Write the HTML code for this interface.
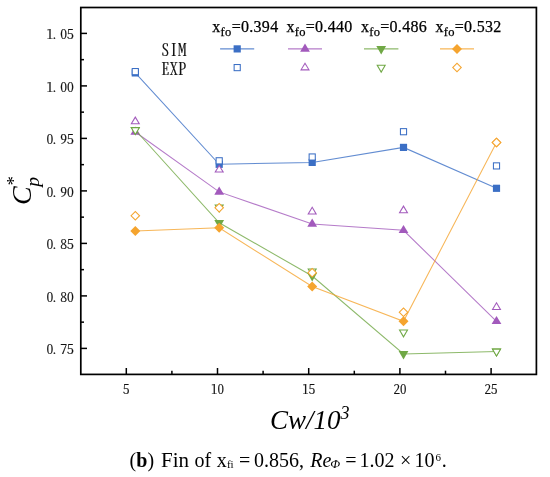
<!DOCTYPE html>
<html><head><meta charset="utf-8"><style>
html,body{margin:0;padding:0;background:#fff;}
body{width:550px;height:477px;position:relative;overflow:hidden;}
svg{position:absolute;left:0;top:0;}
.cjk{font-family:"Noto Serif CJK SC",serif;font-feature-settings:"hwid";}
.dt{margin-left:-2.3px;margin-right:2.3px;}
.yl{position:absolute;left:20px;width:53.8px;text-align:right;transform:scaleX(1.05);transform-origin:100% 0;-webkit-text-stroke:0.2px #111;font-family:"Noto Serif CJK SC",serif;font-feature-settings:"hwid";font-size:13px;line-height:16px;color:#111;}
.xl{position:absolute;top:380.5px;-webkit-text-stroke:0.2px #111;width:40px;text-align:center;font-family:"Noto Serif CJK SC",serif;font-feature-settings:"hwid";font-size:13px;line-height:16px;color:#111;}
.lg{position:absolute;left:161px;-webkit-text-stroke:0.1px #111;font-family:"Noto Serif CJK SC",serif;font-feature-settings:"hwid";font-size:17px;line-height:20px;color:#111;}
.lt{position:absolute;top:17px;-webkit-text-stroke:0.25px #000;font-family:"Liberation Serif",serif;font-size:16px;letter-spacing:0.3px;line-height:20px;color:#000;white-space:nowrap;}
.lt sub{font-size:12.5px;vertical-align:-4px;line-height:0;}
.ya{position:absolute;left:0;top:0;transform-origin:0 0;font-family:"Liberation Serif",serif;font-style:italic;font-size:28px;line-height:30px;white-space:nowrap;color:#000;}
.xa{position:absolute;left:270px;top:405.4px;font-family:"Liberation Serif",serif;font-style:italic;font-size:27px;line-height:30px;white-space:nowrap;color:#000;}
.xa sup{font-size:18px;vertical-align:10px;line-height:0;}
.cap{position:absolute;left:130px;top:448px;font-family:"Liberation Serif",serif;font-size:20px;line-height:24px;white-space:nowrap;color:#000;}
.cap sub{font-size:11px;vertical-align:-1px;line-height:0;}
.cap sup{font-size:11px;vertical-align:6px;line-height:0;}
</style></head><body>
<svg width="550" height="477" viewBox="0 0 550 477">
<g stroke="#000" fill="none">
<rect x="80.8" y="7.5" width="455.6" height="366.9" stroke-width="1.7"/>
<path d="M80.8 33.40H87" stroke-width="1.5"/>
<path d="M80.8 85.90H87" stroke-width="1.5"/>
<path d="M80.8 138.40H87" stroke-width="1.5"/>
<path d="M80.8 190.90H87" stroke-width="1.5"/>
<path d="M80.8 243.40H87" stroke-width="1.5"/>
<path d="M80.8 295.90H87" stroke-width="1.5"/>
<path d="M80.8 348.40H87" stroke-width="1.5"/>
<path d="M80.8 59.65H84" stroke-width="1.5"/>
<path d="M80.8 112.15H84" stroke-width="1.5"/>
<path d="M80.8 164.65H84" stroke-width="1.5"/>
<path d="M80.8 217.15H84" stroke-width="1.5"/>
<path d="M80.8 269.65H84" stroke-width="1.5"/>
<path d="M80.8 322.15H84" stroke-width="1.5"/>
<path d="M126.30 374.4V368" stroke-width="1.5"/>
<path d="M217.50 374.4V368" stroke-width="1.5"/>
<path d="M308.70 374.4V368" stroke-width="1.5"/>
<path d="M399.90 374.4V368" stroke-width="1.5"/>
<path d="M491.10 374.4V368" stroke-width="1.5"/>
<path d="M171.90 374.4V370.7" stroke-width="1.5"/>
<path d="M263.10 374.4V370.7" stroke-width="1.5"/>
<path d="M354.30 374.4V370.7" stroke-width="1.5"/>
<path d="M445.50 374.4V370.7" stroke-width="1.5"/>
</g>
<polyline points="135.30,72.90 219.20,164.30 312.20,162.40 403.50,147.40 496.50,188.30" fill="none" stroke="#3B6FC5" stroke-width="1.05" stroke-opacity="0.8"/>
<path d="M131.70 69.30H138.90V76.50H131.70Z" fill="#3B6FC5"/>
<path d="M215.60 160.70H222.80V167.90H215.60Z" fill="#3B6FC5"/>
<path d="M308.60 158.80H315.80V166.00H308.60Z" fill="#3B6FC5"/>
<path d="M399.90 143.80H407.10V151.00H399.90Z" fill="#3B6FC5"/>
<path d="M492.90 184.70H500.10V191.90H492.90Z" fill="#3B6FC5"/>
<polyline points="135.30,132.00 219.20,191.90 312.20,224.00 403.50,230.30 496.50,321.30" fill="none" stroke="#A25ABC" stroke-width="1.05" stroke-opacity="0.8"/>
<path d="M135.30 126.60L140.20 134.80L130.40 134.80Z" fill="#A25ABC"/>
<path d="M219.20 186.50L224.10 194.70L214.30 194.70Z" fill="#A25ABC"/>
<path d="M312.20 218.60L317.10 226.80L307.30 226.80Z" fill="#A25ABC"/>
<path d="M403.50 224.90L408.40 233.10L398.60 233.10Z" fill="#A25ABC"/>
<path d="M496.50 315.90L501.40 324.10L491.60 324.10Z" fill="#A25ABC"/>
<polyline points="135.30,130.00 219.20,222.80 312.20,276.00 403.50,354.00 496.50,351.50" fill="none" stroke="#70A845" stroke-width="1.05" stroke-opacity="0.8"/>
<path d="M135.30 135.60L140.20 127.10L130.40 127.10Z" fill="#70A845"/>
<path d="M219.20 228.40L224.10 219.90L214.30 219.90Z" fill="#70A845"/>
<path d="M312.20 281.60L317.10 273.10L307.30 273.10Z" fill="#70A845"/>
<path d="M403.50 359.60L408.40 351.10L398.60 351.10Z" fill="#70A845"/>
<path d="M496.50 357.10L501.40 348.60L491.60 348.60Z" fill="#70A845"/>
<polyline points="135.30,231.10 219.20,227.80 312.20,286.50 403.50,321.30 496.50,142.40" fill="none" stroke="#F5A42E" stroke-width="1.05" stroke-opacity="0.8"/>
<path d="M135.30 226.10L140.30 231.10L135.30 236.10L130.30 231.10Z" fill="#F5A42E"/>
<path d="M219.20 222.80L224.20 227.80L219.20 232.80L214.20 227.80Z" fill="#F5A42E"/>
<path d="M312.20 281.50L317.20 286.50L312.20 291.50L307.20 286.50Z" fill="#F5A42E"/>
<path d="M403.50 316.30L408.50 321.30L403.50 326.30L398.50 321.30Z" fill="#F5A42E"/>
<path d="M496.50 137.40L501.50 142.40L496.50 147.40L491.50 142.40Z" fill="#F5A42E"/>
<path d="M131.70 68.00H138.90V75.20H131.70Z" fill="#3B6FC5"/><path d="M132.75 69.05H137.85V74.15H132.75Z" fill="#fff"/>
<path d="M215.60 157.20H222.80V164.40H215.60Z" fill="#3B6FC5"/><path d="M216.65 158.25H221.75V163.35H216.65Z" fill="#fff"/>
<path d="M308.60 153.40H315.80V160.60H308.60Z" fill="#3B6FC5"/><path d="M309.65 154.45H314.75V159.55H309.65Z" fill="#fff"/>
<path d="M399.90 128.10H407.10V135.30H399.90Z" fill="#3B6FC5"/><path d="M400.95 129.15H406.05V134.25H400.95Z" fill="#fff"/>
<path d="M492.90 162.30H500.10V169.50H492.90Z" fill="#3B6FC5"/><path d="M493.95 163.35H499.05V168.45H493.95Z" fill="#fff"/>
<path d="M135.30 116.10L140.20 124.30L130.40 124.30Z" fill="#A25ABC"/><path d="M135.30 118.15L138.35 123.25L132.25 123.25Z" fill="#fff"/>
<path d="M219.20 164.40L224.10 172.60L214.30 172.60Z" fill="#A25ABC"/><path d="M219.20 166.45L222.25 171.55L216.15 171.55Z" fill="#fff"/>
<path d="M312.20 206.30L317.10 214.50L307.30 214.50Z" fill="#A25ABC"/><path d="M312.20 208.35L315.25 213.45L309.15 213.45Z" fill="#fff"/>
<path d="M403.50 205.10L408.40 213.30L398.60 213.30Z" fill="#A25ABC"/><path d="M403.50 207.15L406.55 212.25L400.45 212.25Z" fill="#fff"/>
<path d="M496.50 301.80L501.40 310.00L491.60 310.00Z" fill="#A25ABC"/><path d="M496.50 303.85L499.55 308.95L493.45 308.95Z" fill="#fff"/>
<path d="M135.30 135.60L140.20 127.10L130.40 127.10Z" fill="#70A845"/><path d="M135.30 133.50L138.38 128.15L132.22 128.15Z" fill="#fff"/>
<path d="M219.20 212.90L224.10 204.40L214.30 204.40Z" fill="#70A845"/><path d="M219.20 210.80L222.28 205.45L216.12 205.45Z" fill="#fff"/>
<path d="M312.20 276.90L317.10 268.40L307.30 268.40Z" fill="#70A845"/><path d="M312.20 274.80L315.28 269.45L309.12 269.45Z" fill="#fff"/>
<path d="M403.50 337.90L408.40 329.40L398.60 329.40Z" fill="#70A845"/><path d="M403.50 335.80L406.58 330.45L400.42 330.45Z" fill="#fff"/>
<path d="M496.50 357.10L501.40 348.60L491.60 348.60Z" fill="#70A845"/><path d="M496.50 355.00L499.58 349.65L493.42 349.65Z" fill="#fff"/>
<path d="M135.30 210.80L140.30 215.80L135.30 220.80L130.30 215.80Z" fill="#F5A42E"/><path d="M135.30 212.28L138.82 215.80L135.30 219.32L131.78 215.80Z" fill="#fff"/>
<path d="M219.20 202.70L224.20 207.70L219.20 212.70L214.20 207.70Z" fill="#F5A42E"/><path d="M219.20 204.18L222.72 207.70L219.20 211.22L215.68 207.70Z" fill="#fff"/>
<path d="M312.20 267.70L317.20 272.70L312.20 277.70L307.20 272.70Z" fill="#F5A42E"/><path d="M312.20 269.18L315.72 272.70L312.20 276.22L308.68 272.70Z" fill="#fff"/>
<path d="M403.50 307.30L408.50 312.30L403.50 317.30L398.50 312.30Z" fill="#F5A42E"/><path d="M403.50 308.78L407.02 312.30L403.50 315.82L399.98 312.30Z" fill="#fff"/>
<path d="M496.50 137.40L501.50 142.40L496.50 147.40L491.50 142.40Z" fill="#F5A42E"/><path d="M496.50 138.88L500.02 142.40L496.50 145.92L492.98 142.40Z" fill="#fff"/>
<path d="M220.1 48.9H254.2" stroke="#3B6FC5" stroke-width="1.2" stroke-opacity="0.8"/>
<path d="M233.60 45.30H240.80V52.50H233.60Z" fill="#3B6FC5"/>
<path d="M233.60 64.00H240.80V71.20H233.60Z" fill="#3B6FC5"/><path d="M234.65 65.05H239.75V70.15H234.65Z" fill="#fff"/>
<path d="M288 48.9H322" stroke="#A25ABC" stroke-width="1.2" stroke-opacity="0.8"/>
<path d="M305.00 43.50L309.90 51.70L300.10 51.70Z" fill="#A25ABC"/>
<path d="M305.00 62.20L309.90 70.40L300.10 70.40Z" fill="#A25ABC"/><path d="M305.00 64.25L308.05 69.35L301.95 69.35Z" fill="#fff"/>
<path d="M364 48.9H398.4" stroke="#70A845" stroke-width="1.2" stroke-opacity="0.8"/>
<path d="M381.20 54.50L386.10 46.00L376.30 46.00Z" fill="#70A845"/>
<path d="M381.20 73.20L386.10 64.70L376.30 64.70Z" fill="#70A845"/><path d="M381.20 71.10L384.28 65.75L378.12 65.75Z" fill="#fff"/>
<path d="M440 48.9H474" stroke="#F5A42E" stroke-width="1.2" stroke-opacity="0.8"/>
<path d="M457.00 43.90L462.00 48.90L457.00 53.90L452.00 48.90Z" fill="#F5A42E"/>
<path d="M457.00 62.60L462.00 67.60L457.00 72.60L452.00 67.60Z" fill="#F5A42E"/><path d="M457.00 64.08L460.52 67.60L457.00 71.12L453.48 67.60Z" fill="#fff"/>
</svg>
<div class="yl" style="top:26.1px">1<span class="dt">.</span>05</div>
<div class="yl" style="top:78.6px">1<span class="dt">.</span>00</div>
<div class="yl" style="top:131.1px">0<span class="dt">.</span>95</div>
<div class="yl" style="top:183.6px">0<span class="dt">.</span>90</div>
<div class="yl" style="top:236.1px">0<span class="dt">.</span>85</div>
<div class="yl" style="top:288.6px">0<span class="dt">.</span>80</div>
<div class="yl" style="top:341.1px">0<span class="dt">.</span>75</div>
<div class="xl" style="left:106.3px">5</div>
<div class="xl" style="left:197.5px">10</div>
<div class="xl" style="left:288.7px">15</div>
<div class="xl" style="left:379.9px">20</div>
<div class="xl" style="left:471.1px">25</div>
<div class="lg" style="top:39.2px">SIM</div>
<div class="lg" style="top:58px">EXP</div>
<div class="lt" style="left:212.3px">x<sub>fo</sub>=0.394</div>
<div class="lt" style="left:286.4px">x<sub>fo</sub>=0.440</div>
<div class="lt" style="left:360.9px">x<sub>fo</sub>=0.486</div>
<div class="lt" style="left:435.4px">x<sub>fo</sub>=0.532</div>
<div class="ya" style="transform:translate(7px,205px) rotate(-90deg)"><span style="position:absolute;left:0;top:0">C</span><span style="position:absolute;left:19.5px;top:-8px;font-size:19px;font-style:normal">*</span><span style="position:absolute;left:18.3px;top:11px;font-size:19.5px">p</span></div>
<div class="xa">Cw/10<sup>3</sup></div>
<span class="cap" id="c1" style="left:129.60px">(<b>b</b>)</span>
<span class="cap" id="c2" style="left:160.50px;transform:scaleX(1.05);transform-origin:0 0">Fin</span>
<span class="cap" id="c3" style="left:194.60px">of</span>
<span class="cap" id="c4" style="left:216.80px">x</span>
<span class="cap" id="c5" style="left:226.90px"><sub>fi</sub></span>
<span class="cap" id="c6" style="left:239.00px">=</span>
<span class="cap" id="c7" style="left:254.00px">0.856,</span>
<span class="cap" id="c8" style="left:310.20px"><i>Re</i></span>
<span class="cap" id="c9" style="left:330.20px"><sub><i style="font-size:13px">Φ</i></sub></span>
<span class="cap" id="c10" style="left:345.20px">=</span>
<span class="cap" id="c11" style="left:359.60px">1.02</span>
<span class="cap" id="c12" style="left:400.00px">×</span>
<span class="cap" id="c13" style="left:414.40px">10</span>
<span class="cap" id="c14" style="left:435.60px"><sup>6</sup></span>
<span class="cap" id="c15" style="left:441.80px">.</span>
</body></html>
